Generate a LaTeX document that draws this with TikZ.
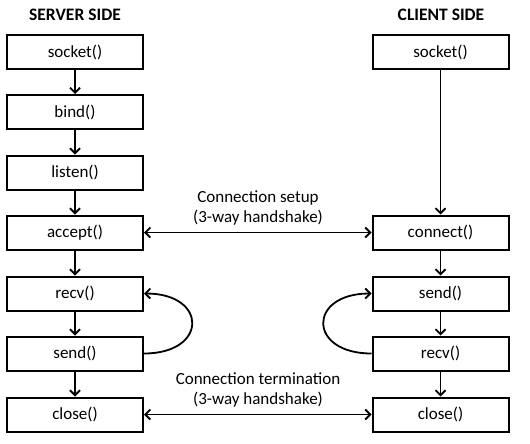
\documentclass[tikz,border=0pt]{standalone}
\usepackage{fontspec}
\setmainfont{Carlito}
\usetikzlibrary{arrows.meta}
\begin{document}
\begin{tikzpicture}[x=1pt,y=-1pt,
  fn/.style={draw,line width=2pt,minimum width=136pt,minimum height=34pt,inner sep=0pt,font=\fontsize{17}{19}\selectfont},
  hdr/.style={font=\fontsize{17.5}{19}\selectfont\bfseries},
  lbl/.style={font=\fontsize{17}{20}\selectfont,align=center},
  tip/.style={Straight Barb[length=5pt,width=10pt,line width=1.8pt]},
  arr/.style={line width=1.8pt,-{Straight Barb[length=5pt,width=10pt,line width=1.8pt]}},
  darr/.style={line width=1.8pt,{Straight Barb[length=5pt,width=10pt,line width=1.8pt]}-{Straight Barb[length=5pt,width=10pt,line width=1.8pt]}}]
\useasboundingbox (0,0) rectangle (530,444);
\node[hdr] (sh) at (75,15) {SERVER SIDE};
\node[hdr] (ch) at (441,15) {CLIENT SIDE};
\node[fn] (ssock) at (75,52.5) {socket()};
\node[fn] (sbind) at (75,112) {bind()};
\node[fn] (slisten) at (75,172.5) {listen()};
\node[fn] (saccept) at (75,232.5) {accept()};
\node[fn] (srecv) at (75,293.5) {recv()};
\node[fn] (ssend) at (75,353.5) {send()};
\node[fn] (sclose) at (75,414.5) {close()};
\node[fn] (csock) at (440.5,52.5) {socket()};
\node[fn] (cconn) at (440.5,232.5) {connect()};
\node[fn] (csend) at (440.5,293.5) {send()};
\node[fn] (crecv) at (440.5,353.5) {recv()};
\node[fn] (cclose) at (440.5,414.5) {close()};
\draw[arr] (ssock) -- (sbind);
\draw[arr] (sbind) -- (slisten);
\draw[arr] (slisten) -- (saccept);
\draw[arr] (saccept) -- (srecv);
\draw[arr] (srecv) -- (ssend);
\draw[arr] (ssend) -- (sclose);
\draw[arr] (csock) -- (cconn);
\draw[arr] (cconn) -- (csend);
\draw[arr] (csend) -- (crecv);
\draw[arr] (crecv) -- (cclose);
\draw[darr] (saccept) -- (cconn);
\draw[darr] (sclose) -- (cclose);
\node[lbl] (setup) at (258,208) {Connection setup\\(3-way handshake)};
\node[lbl] (term) at (258,390) {Connection termination\\(3-way handshake)};
\draw[arr] (ssend.east) .. controls +(64,0) and +(64,0) .. (srecv.east);
\draw[arr] (crecv.west) .. controls +(-64,0) and +(-64,0) .. (csend.west);
\end{tikzpicture}
\end{document}
